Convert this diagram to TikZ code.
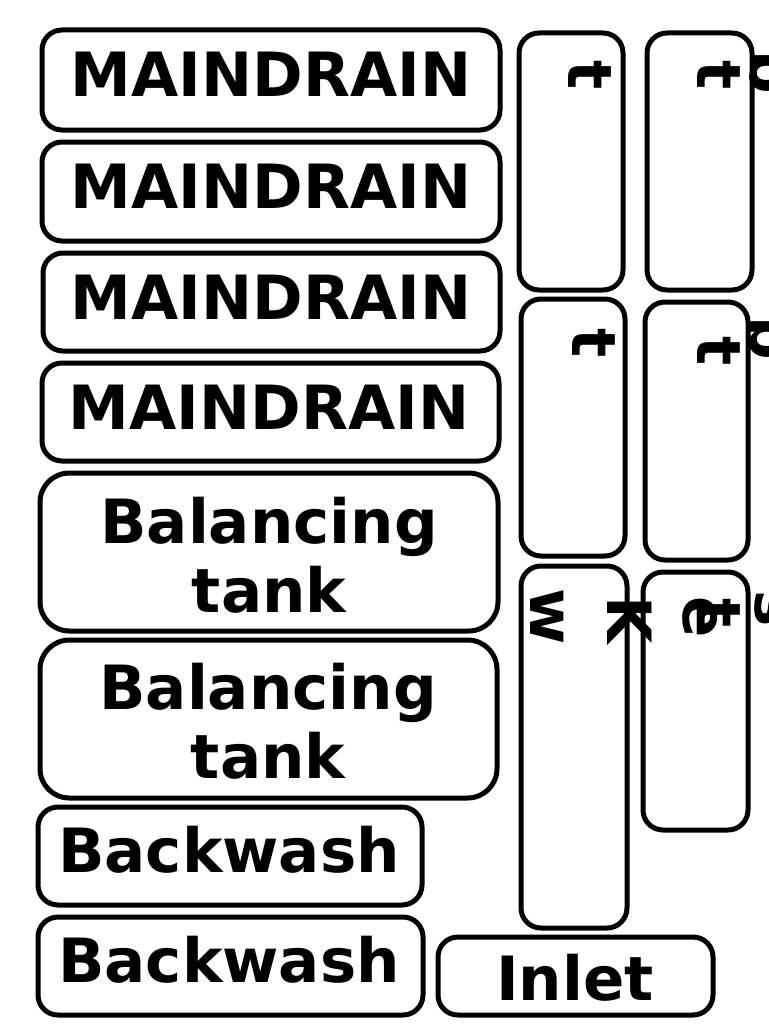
\documentclass[tikz,border=0pt]{standalone}
\usepackage{fontspec}
\setmainfont{DejaVu Sans}

\begin{document}
\begin{tikzpicture}[x=0.75pt, y=-0.75pt,
    tag/.style={draw, line width=3.75pt, rounded corners=15pt},
    bigtag/.style={draw, line width=3.75pt, rounded corners=22pt},
    lbl/.style={font=\bfseries\fontsize{45.75}{52}\selectfont, anchor=base, inner sep=0pt},
    vlbl/.style={font=\bfseries\fontsize{45.75}{52}\selectfont, anchor=base west, rotate=-90, inner sep=0pt}]
  \useasboundingbox (0,0) rectangle (768,1024);
  \clip (0,0) rectangle (768,1024);
  \draw[tag] (42,30) rectangle (500,130);
  \draw[tag] (42,142) rectangle (500,241);
  \draw[tag] (43,253) rectangle (500,351);
  \draw[tag] (42,363) rectangle (499,461);
  \draw[bigtag] (40,473) rectangle (498,631);
  \draw[bigtag] (40,640) rectangle (497,798);
  \draw[tag] (38,807) rectangle (422,905);
  \draw[tag] (38,917) rectangle (423,1015);
  \draw[tag] (438,937) rectangle (713,1015);
  \draw[tag] (519,33) rectangle (623,290);
  \draw[tag] (647,33) rectangle (752,290);
  \draw[tag] (521,299) rectangle (625,556);
  \draw[tag] (645,302) rectangle (748,560);
  \draw[tag] (521,566) rectangle (627,928);
  \draw[tag] (643,572) rectangle (748,830);
  \node[lbl] (drain1) at (271,97) {MAINDRAIN};
  \node[lbl] (drain2) at (271,208) {MAINDRAIN};
  \node[lbl] (drain3) at (271,319) {MAINDRAIN};
  \node[lbl] (drain4) at (269,429) {MAINDRAIN};
  \node[lbl] (bal1a) at (269,543) {Balancing};
  \node[lbl] (bal1b) at (269,612) {tank};
  \node[lbl] (bal2a) at (268,709) {Balancing};
  \node[lbl] (bal2b) at (268,778) {tank};
  \node[lbl] (back1) at (229,872) {Backwash};
  \node[lbl] (back2) at (229,982) {Backwash};
  \node[lbl] (inlet) at (575,1000) {Inlet};
  \node[vlbl] (t1) at (568,60) {t};
  \node[vlbl] (t2) at (697,60) {t};
  \node[vlbl] (b2) at (750,50) {b};
  \node[vlbl] (t3) at (572,328) {t};
  \node[vlbl] (t4) at (697,336) {t};
  \node[vlbl] (b4) at (750,316) {b};
  \node[vlbl] (k5) at (607,596) {K};
  \node[vlbl] (w5) at (530,588) {w};
  \node[vlbl] (e6) at (683,596) {e};
  \node[vlbl] (t6) at (697,598) {t};
  \node[vlbl] (s6) at (755,590) {s};
\end{tikzpicture}
\end{document}
